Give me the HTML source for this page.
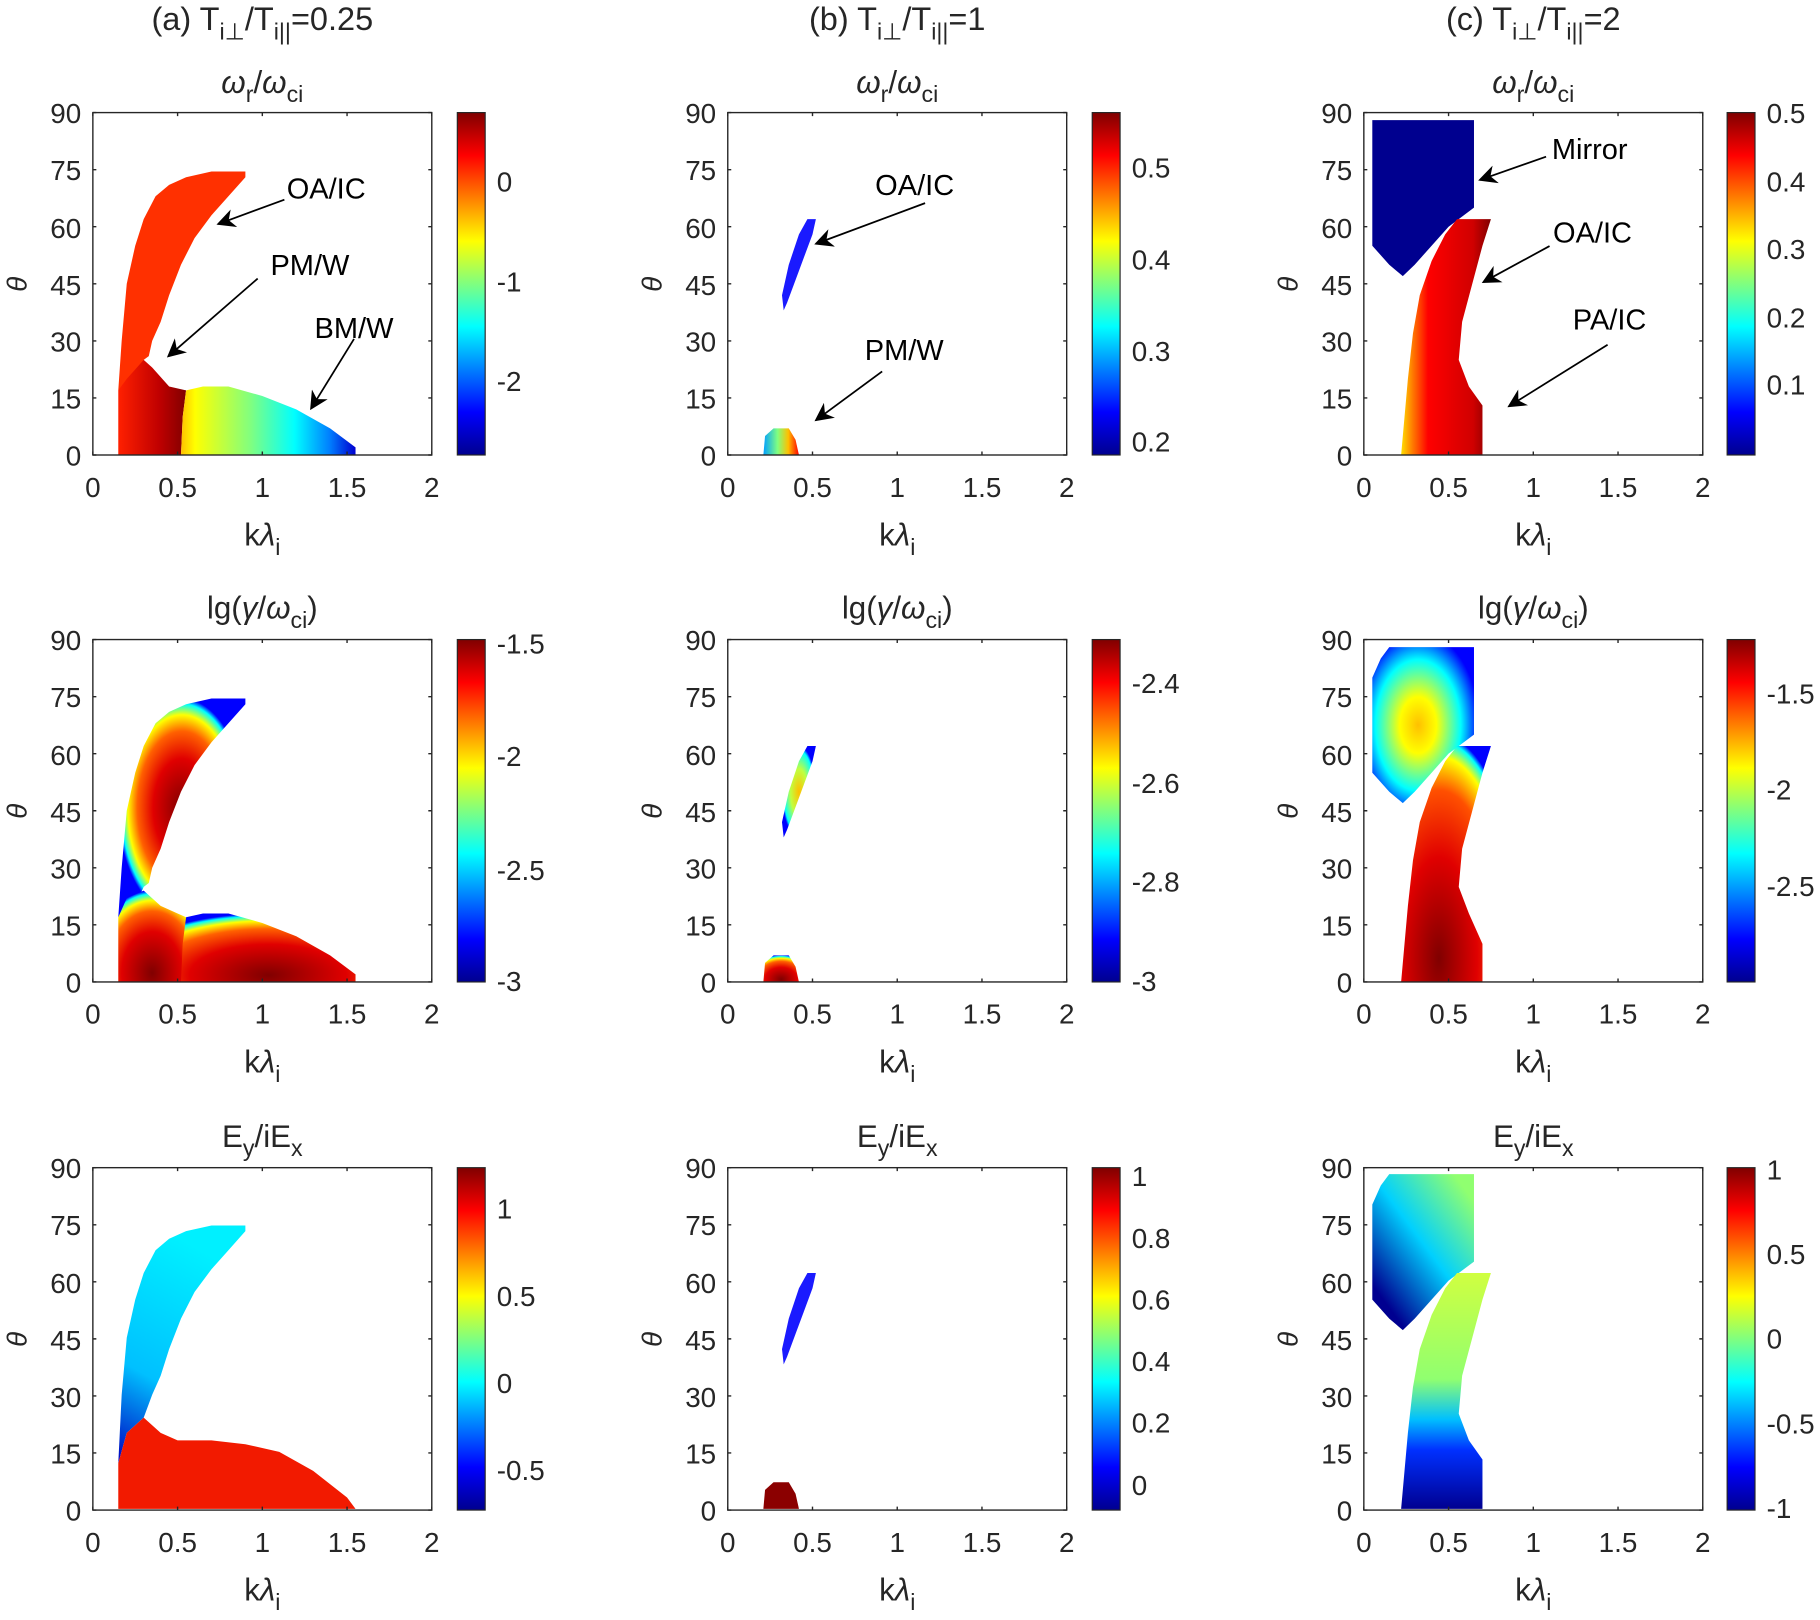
<!DOCTYPE html>
<html><head><meta charset="utf-8"><style>html,body{margin:0;padding:0;background:#fff}svg{display:block}</style></head><body>
<svg width="1820" height="1620" viewBox="0 0 1568 1395.7" xmlns="http://www.w3.org/2000/svg" font-family="Liberation Sans, DejaVu Sans, sans-serif" fill="#262626">
<defs>
<linearGradient id="jet" x1="0" y1="1" x2="0" y2="0">
<stop offset="0" stop-color="#00008f"/><stop offset="0.125" stop-color="#0000ff"/><stop offset="0.375" stop-color="#00ffff"/><stop offset="0.625" stop-color="#ffff00"/><stop offset="0.875" stop-color="#ff0000"/><stop offset="1" stop-color="#800000"/>
</linearGradient>
<linearGradient id="aLow" x1="0" y1="0" x2="1" y2="0"><stop offset="0" stop-color="#ff2000"/><stop offset="0.6" stop-color="#c00000"/><stop offset="1" stop-color="#800000"/></linearGradient>
<linearGradient id="aBM" x1="0" y1="0" x2="1" y2="0"><stop offset="0" stop-color="#ffc000"/><stop offset="0.08" stop-color="#ffff00"/><stop offset="0.4" stop-color="#80ff80"/><stop offset="0.65" stop-color="#00ffff"/><stop offset="0.85" stop-color="#0080ff"/><stop offset="1" stop-color="#0000d0"/></linearGradient>
<linearGradient id="bPM" x1="0" y1="0" x2="1" y2="0"><stop offset="0" stop-color="#00a0ff"/><stop offset="0.4" stop-color="#80ff80"/><stop offset="0.7" stop-color="#ffc000"/><stop offset="1" stop-color="#ff0000"/></linearGradient>
<linearGradient id="cBand" x1="0" y1="0" x2="1" y2="0"><stop offset="0" stop-color="#ffe000"/><stop offset="0.12" stop-color="#ff8000"/><stop offset="0.3" stop-color="#ff0000"/><stop offset="0.8" stop-color="#d00000"/><stop offset="1" stop-color="#800000"/></linearGradient>
<radialGradient id="hot"><stop offset="0" stop-color="#800000"/><stop offset="0.45" stop-color="#e00000"/><stop offset="0.7" stop-color="#ff6000"/><stop offset="0.85" stop-color="#ffff00"/><stop offset="0.95" stop-color="#00ffff"/><stop offset="1" stop-color="#0000ff"/></radialGradient>
<radialGradient id="hot2" cx="0.5" cy="0.1" r="0.9"><stop offset="0" stop-color="#800000"/><stop offset="0.5" stop-color="#e00000"/><stop offset="0.75" stop-color="#ff6000"/><stop offset="0.88" stop-color="#ffff00"/><stop offset="0.96" stop-color="#00ffff"/><stop offset="1" stop-color="#0000ff"/></radialGradient>
<radialGradient id="hot3" cx="0.42" cy="0.1" r="0.95"><stop offset="0" stop-color="#800000"/><stop offset="0.45" stop-color="#e00000"/><stop offset="0.75" stop-color="#ff5000"/><stop offset="0.9" stop-color="#ffff00"/><stop offset="0.97" stop-color="#00ffff"/><stop offset="1" stop-color="#0000ff"/></radialGradient>
<radialGradient id="warm" cx="0.45" cy="0.5" r="0.6"><stop offset="0" stop-color="#ffc000"/><stop offset="0.3" stop-color="#ffff00"/><stop offset="0.7" stop-color="#00ffff"/><stop offset="1" stop-color="#0000ff"/></radialGradient>
<radialGradient id="bOA"><stop offset="0" stop-color="#ffc000"/><stop offset="0.5" stop-color="#c0ff40"/><stop offset="0.9" stop-color="#00ffff"/><stop offset="1" stop-color="#0000ff"/></radialGradient>
<linearGradient id="a3up" x1="0.3" y1="1" x2="0" y2="0"><stop offset="0" stop-color="#00f0ff"/><stop offset="0.6" stop-color="#00c0ff"/><stop offset="1" stop-color="#0000c0"/></linearGradient>
<linearGradient id="c3m" x1="0.8" y1="1" x2="0.1" y2="0.2"><stop offset="0" stop-color="#90ff70"/><stop offset="0.5" stop-color="#00d0ff"/><stop offset="1" stop-color="#000090"/></linearGradient>
<linearGradient id="c3b" x1="0" y1="1" x2="0" y2="0"><stop offset="0" stop-color="#d0ff40"/><stop offset="0.45" stop-color="#90ff70"/><stop offset="0.62" stop-color="#00c0ff"/><stop offset="0.75" stop-color="#0030ff"/><stop offset="1" stop-color="#000090"/></linearGradient>
<marker id="ah" viewBox="0 0 10 10" refX="9" refY="5" markerWidth="16" markerHeight="16" orient="auto" markerUnits="userSpaceOnUse"><path d="M0,0 L10,5 L0,10 L3,5 z" fill="#000"/></marker>
<g id="frame">
<rect x="0" y="0" width="292" height="295" fill="none" stroke="#262626" stroke-width="1.2"/>
<path d="M0,0v3M73,0v3M146,0v3M219,0v3M292,0v3M0,295v-3M73,295v-3M146,295v-3M219,295v-3M292,295v-3M0,0h3M0,49.2h3M0,98.3h3M0,147.5h3M0,196.7h3M0,245.8h3M0,295h3M292,0h-3M292,49.2h-3M292,98.3h-3M292,147.5h-3M292,196.7h-3M292,245.8h-3M292,295h-3" stroke="#262626" stroke-width="1.2"/>
<g font-size="24" text-anchor="middle"><text x="0" y="331">0</text><text x="73" y="331">0.5</text><text x="146" y="331">1</text><text x="219" y="331">1.5</text><text x="292" y="331">2</text></g>
<g font-size="24" text-anchor="end"><text x="-10" y="304">0</text><text x="-10" y="255">15</text><text x="-10" y="206">30</text><text x="-10" y="157">45</text><text x="-10" y="108">60</text><text x="-10" y="58">75</text><text x="-10" y="9">90</text></g>
<text x="146" y="373" font-size="27" text-anchor="middle">k<tspan font-style="italic">λ</tspan><tspan font-size="20" dy="8">i</tspan></text>
<text transform="translate(-57,148) rotate(-90)" font-size="24" font-style="italic" text-anchor="middle">θ</text>
</g>
<g id="cb"><rect x="0" y="0" width="24" height="295" fill="url(#jet)" stroke="#262626" stroke-width="1"/></g>
</defs>

<g font-size="28" text-anchor="middle">
<text x="226" y="26">(a) T<tspan font-size="20" dy="8">i⊥</tspan><tspan dy="-8">/T</tspan><tspan font-size="20" dy="8">i||</tspan><tspan dy="-8">=0.25</tspan></text>
<text x="773" y="26">(b) T<tspan font-size="20" dy="8">i⊥</tspan><tspan dy="-8">/T</tspan><tspan font-size="20" dy="8">i||</tspan><tspan dy="-8">=1</tspan></text>
<text x="1321" y="26">(c) T<tspan font-size="20" dy="8">i⊥</tspan><tspan dy="-8">/T</tspan><tspan font-size="20" dy="8">i||</tspan><tspan dy="-8">=2</tspan></text>
</g>
<g font-size="27" text-anchor="middle">
<text x="226" y="80"><tspan font-style="italic">ω</tspan><tspan font-size="20" dy="8">r</tspan><tspan dy="-8">/</tspan><tspan font-style="italic">ω</tspan><tspan font-size="20" dy="8">ci</tspan></text>
<text x="773" y="80"><tspan font-style="italic">ω</tspan><tspan font-size="20" dy="8">r</tspan><tspan dy="-8">/</tspan><tspan font-style="italic">ω</tspan><tspan font-size="20" dy="8">ci</tspan></text>
<text x="1321" y="80"><tspan font-style="italic">ω</tspan><tspan font-size="20" dy="8">r</tspan><tspan dy="-8">/</tspan><tspan font-style="italic">ω</tspan><tspan font-size="20" dy="8">ci</tspan></text>
<text x="226" y="533">lg(<tspan font-style="italic">γ</tspan>/<tspan font-style="italic">ω</tspan><tspan font-size="20" dy="8">ci</tspan><tspan dy="-8">)</tspan></text>
<text x="773" y="533">lg(<tspan font-style="italic">γ</tspan>/<tspan font-style="italic">ω</tspan><tspan font-size="20" dy="8">ci</tspan><tspan dy="-8">)</tspan></text>
<text x="1321" y="533">lg(<tspan font-style="italic">γ</tspan>/<tspan font-style="italic">ω</tspan><tspan font-size="20" dy="8">ci</tspan><tspan dy="-8">)</tspan></text>
<text x="226" y="988">E<tspan font-size="20" dy="8">y</tspan><tspan dy="-8">/iE</tspan><tspan font-size="20" dy="8">x</tspan></text>
<text x="773" y="988">E<tspan font-size="20" dy="8">y</tspan><tspan dy="-8">/iE</tspan><tspan font-size="20" dy="8">x</tspan></text>
<text x="1321" y="988">E<tspan font-size="20" dy="8">y</tspan><tspan dy="-8">/iE</tspan><tspan font-size="20" dy="8">x</tspan></text>
</g>

<!-- ===== Row 1 ===== -->
<g transform="translate(80,392) scale(146,-3.278)">
<polygon fill="#ff3000" points="0.15,17 0.17,30 0.2,45 0.25,55 0.3,62 0.37,68 0.45,71 0.55,73 0.7,74.5 0.9,74.5 0.9,73 0.8,68 0.7,63 0.6,57 0.52,50 0.45,42 0.4,35 0.35,30 0.33,26 0.3,25 0.25,20"/>
<polygon fill="url(#aLow)" points="0.15,0 0.15,17 0.2,20 0.3,25 0.35,23 0.45,18 0.55,17 0.53,10 0.52,0"/>
<polygon fill="url(#aBM)" points="0.52,0 0.53,10 0.55,17 0.65,18 0.8,18 1.0,15.5 1.2,12 1.4,7 1.55,2 1.55,0"/>
</g>
<g transform="translate(627,392) scale(146,-3.278)">
<polygon fill="#1a1aff" points="0.33,38 0.32,42 0.36,50 0.42,58 0.47,62 0.52,62 0.5,58 0.45,52 0.4,46 0.35,40"/>
<polygon fill="url(#bPM)" points="0.21,0 0.22,5 0.27,7 0.36,7 0.4,4 0.42,0"/>
</g>
<g transform="translate(1175,392) scale(146,-3.278)">
<polygon fill="#00008f" points="0.05,88 0.65,88 0.65,65 0.5,60 0.4,55 0.3,50 0.23,47 0.15,50 0.05,55"/>
<polygon fill="url(#cBand)" points="0.22,0 0.24,10 0.26,20 0.29,32 0.33,42 0.4,51 0.48,58 0.55,62 0.75,62 0.7,55 0.64,45 0.58,35 0.56,25 0.62,18 0.7,13 0.7,0"/>
</g>
<use href="#frame" x="80" y="97"/><use href="#frame" x="627" y="97"/><use href="#frame" x="1175" y="97"/>
<use href="#cb" x="394" y="97"/><use href="#cb" x="941" y="97"/><use href="#cb" x="1488" y="97"/>
<g font-size="24">
<text x="428" y="165">0</text><text x="428" y="251">-1</text><text x="428" y="337">-2</text>
<text x="975" y="153">0.5</text><text x="975" y="232">0.4</text><text x="975" y="311">0.3</text><text x="975" y="389">0.2</text>
<text x="1522" y="106">0.5</text><text x="1522" y="165">0.4</text><text x="1522" y="223">0.3</text><text x="1522" y="282">0.2</text><text x="1522" y="340">0.1</text>
</g>
<g font-size="25" fill="#000">
<text x="247" y="171">OA/IC</text><text x="233" y="237">PM/W</text><text x="271" y="291">BM/W</text>
<text x="754" y="168">OA/IC</text><text x="745" y="310">PM/W</text>
<text x="1337" y="137">Mirror</text><text x="1338" y="209">OA/IC</text><text x="1355" y="284">PA/IC</text>
</g>
<g stroke="#000" stroke-width="1.5" marker-end="url(#ah)">
<line x1="245" y1="172" x2="188" y2="193"/><line x1="222" y1="240" x2="145" y2="307"/><line x1="305" y1="292" x2="268" y2="352"/>
<line x1="797" y1="175" x2="703" y2="210"/><line x1="760" y1="320" x2="703" y2="362"/>
<line x1="1332" y1="135" x2="1275" y2="155"/><line x1="1335" y1="212" x2="1278" y2="243"/><line x1="1385" y1="297" x2="1300" y2="350"/>
</g>

<!-- ===== Row 2 ===== -->
<g transform="translate(80,846) scale(146,-3.278)">
<polygon fill="url(#hot)" points="0.15,17 0.17,30 0.2,45 0.25,55 0.3,62 0.37,68 0.45,71 0.55,73 0.7,74.5 0.9,74.5 0.9,73 0.8,68 0.7,63 0.6,57 0.52,50 0.45,42 0.4,35 0.35,30 0.33,26 0.3,25 0.25,20"/>
<polygon fill="url(#hot2)" points="0.15,0 0.15,17 0.2,22 0.3,24 0.4,20 0.5,18 0.55,17 0.53,0"/>
<polygon fill="url(#hot2)" points="0.52,0 0.53,10 0.55,17 0.65,18 0.8,18 1.0,15.5 1.2,12 1.4,7 1.55,2 1.55,0"/>
</g>
<g transform="translate(627,846) scale(146,-3.278)">
<polygon fill="url(#bOA)" points="0.33,38 0.32,42 0.36,50 0.42,58 0.47,62 0.52,62 0.5,58 0.45,52 0.4,46 0.35,40"/>
<polygon fill="url(#hot2)" points="0.21,0 0.22,5 0.27,7 0.36,7 0.4,4 0.42,0"/>
</g>
<g transform="translate(1175,846) scale(146,-3.278)">
<polygon fill="url(#warm)" points="0.05,80 0.1,85 0.15,88 0.65,88 0.65,65 0.5,60 0.4,55 0.3,50 0.23,47 0.15,50 0.05,55"/>
<polygon fill="url(#hot3)" points="0.22,0 0.24,10 0.26,20 0.29,32 0.33,42 0.4,51 0.48,58 0.55,62 0.75,62 0.7,55 0.64,45 0.58,35 0.56,25 0.62,18 0.7,10 0.7,0"/>
</g>
<use href="#frame" x="80" y="551"/><use href="#frame" x="627" y="551"/><use href="#frame" x="1175" y="551"/>
<use href="#cb" x="394" y="551"/><use href="#cb" x="941" y="551"/><use href="#cb" x="1488" y="551"/>
<g font-size="24">
<text x="428" y="563">-1.5</text><text x="428" y="660">-2</text><text x="428" y="758">-2.5</text><text x="428" y="854">-3</text>
<text x="975" y="597">-2.4</text><text x="975" y="683">-2.6</text><text x="975" y="768">-2.8</text><text x="975" y="854">-3</text>
<text x="1522" y="606">-1.5</text><text x="1522" y="689">-2</text><text x="1522" y="772">-2.5</text>
</g>

<!-- ===== Row 3 ===== -->
<g transform="translate(80,1300) scale(146,-3.278)">
<polygon fill="url(#a3up)" points="0.15,12 0.17,30 0.2,45 0.25,55 0.3,62 0.37,68 0.45,71 0.55,73 0.7,74.5 0.9,74.5 0.9,73 0.8,68 0.7,63 0.6,57 0.52,50 0.45,42 0.4,35 0.35,30 0.3,24 0.2,20"/>
<polygon fill="#f21a00" points="0.15,0 0.15,12 0.2,20 0.3,24 0.4,20 0.5,18 0.7,18 0.9,17 1.1,15 1.3,10 1.5,3 1.55,0"/>
</g>
<g transform="translate(627,1300) scale(146,-3.278)">
<polygon fill="#1a1aff" points="0.33,38 0.32,42 0.36,50 0.42,58 0.47,62 0.52,62 0.5,58 0.45,52 0.4,46 0.35,40"/>
<polygon fill="#8b0000" points="0.21,0 0.22,5 0.27,7 0.36,7 0.4,4 0.42,0"/>
</g>
<g transform="translate(1175,1300) scale(146,-3.278)">
<polygon fill="url(#c3m)" points="0.05,80 0.1,85 0.15,88 0.65,88 0.65,65 0.5,60 0.4,55 0.3,50 0.23,47 0.15,50 0.05,55"/>
<polygon fill="url(#c3b)" points="0.22,0 0.24,10 0.26,20 0.29,32 0.33,42 0.4,51 0.48,58 0.55,62 0.75,62 0.7,55 0.64,45 0.58,35 0.56,25 0.62,18 0.7,13 0.7,0"/>
</g>
<use href="#frame" x="80" y="1006"/><use href="#frame" x="627" y="1006"/><use href="#frame" x="1175" y="1006"/>
<use href="#cb" x="394" y="1006"/><use href="#cb" x="941" y="1006"/><use href="#cb" x="1488" y="1006"/>
<g font-size="24">
<text x="428" y="1050">1</text><text x="428" y="1125">0.5</text><text x="428" y="1200">0</text><text x="428" y="1275">-0.5</text>
<text x="975" y="1022">1</text><text x="975" y="1075">0.8</text><text x="975" y="1128">0.6</text><text x="975" y="1181">0.4</text><text x="975" y="1234">0.2</text><text x="975" y="1288">0</text>
<text x="1522" y="1016">1</text><text x="1522" y="1089">0.5</text><text x="1522" y="1162">0</text><text x="1522" y="1235">-0.5</text><text x="1522" y="1308">-1</text>
</g>
</svg>
</body></html>
